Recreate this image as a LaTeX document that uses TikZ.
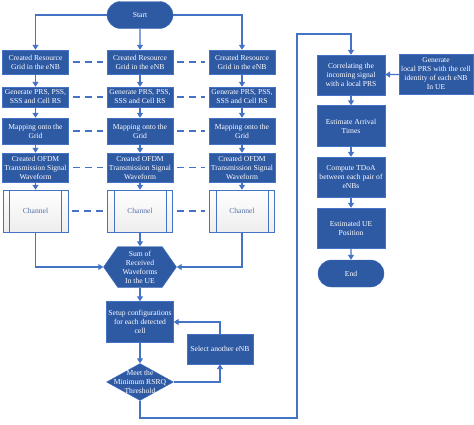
\documentclass[tikz,border=0pt]{standalone}
\usepackage{fontspec}
\setmainfont{Liberation Serif}
\usepackage{tikz}
\usetikzlibrary{arrows.meta,shapes.geometric,shapes.symbols,shapes.misc}

\definecolor{boxblue}{RGB}{46,89,163}
\definecolor{lineblue}{RGB}{68,114,196}
\definecolor{chantext}{RGB}{84,112,168}

\tikzset{
    smallfont/.style={font=\fontsize{7.6}{9}\selectfont},
    proc/.style={rectangle, draw=lineblue, fill=boxblue, text=white, align=center,
        inner sep=1pt, minimum width=66pt, smallfont},
    term/.style={proc, rounded rectangle, minimum width=68pt, minimum height=27pt},
    chan/.style={rectangle, draw=lineblue, top color=white, bottom color=black!7,
        text=chantext, minimum width=65pt, minimum height=42pt, smallfont,
        path picture={\draw[lineblue, line width=.8pt]
            ([xshift=6.5pt]path picture bounding box.north west) -- ([xshift=6.5pt]path picture bounding box.south west)
            ([xshift=-6.5pt]path picture bounding box.north east) -- ([xshift=-6.5pt]path picture bounding box.south east);}},
    hexa/.style={signal, signal to=west and east, signal pointer angle=110, draw=lineblue,
        fill=boxblue, minimum width=73pt, minimum height=41pt, inner sep=0pt},
    dec/.style={diamond, draw=lineblue, fill=boxblue, minimum width=67pt,
        minimum height=37pt, inner sep=0pt},
    txt/.style={text=white, align=center, inner sep=0pt, smallfont},
    flow/.style={draw=lineblue, line width=1.2pt, -{Triangle[width=6pt,length=5pt]}},
    link/.style={draw=lineblue, line width=1.1pt, dash pattern=on 7pt off 5pt,
        shorten <=4pt, shorten >=4pt},
}

\begin{document}
\begin{tikzpicture}[x=1pt,y=-1pt]
            \useasboundingbox (0,0) rectangle (474,424);

            \node[term] (start) at (140,15) {Start};

            \node[proc, minimum height=24pt] (grid1) at (35.5,62) {Created Resource\\Grid in the eNB};
            \node[proc, minimum height=24pt] (grid2) at (140,62) {Created Resource\\Grid in the eNB};
            \node[proc, minimum height=24pt] (grid3) at (242,62) {Created Resource\\Grid in the eNB};

            \node[proc, minimum height=20pt] (gen1) at (35.5,97) {Generate PRS, PSS,\\SSS and Cell RS};
            \node[proc, minimum height=20pt] (gen2) at (140,97) {Generate PRS, PSS,\\SSS and Cell RS};
            \node[proc, minimum height=20pt] (gen3) at (242,97) {Generate PRS, PSS,\\SSS and Cell RS};

            \node[proc, minimum height=26pt] (map1) at (35.5,131) {Mapping onto the\\Grid};
            \node[proc, minimum height=26pt] (map2) at (140,131) {Mapping onto the\\Grid};
            \node[proc, minimum height=26pt] (map3) at (242,131) {Mapping onto the\\Grid};

            \node[proc, minimum height=29pt] (ofdm1) at (35.5,167.5) {Created OFDM\\Transmission Signal\\Waveform};
            \node[proc, minimum height=29pt] (ofdm2) at (140,167.5) {Created OFDM\\Transmission Signal\\Waveform};
            \node[proc, minimum height=29pt] (ofdm3) at (242,167.5) {Created OFDM\\Transmission Signal\\Waveform};

            \node[chan] (chan1) at (35.5,211) {Channel};
            \node[chan] (chan2) at (140,211) {Channel};
            \node[chan] (chan3) at (242,211) {Channel};

            \node[hexa] (sum) at (140,267) {};
            \node[txt] at (sum) {Sum of\\Received\\Waveforms\\In the UE};

            \node[proc, minimum width=67pt, minimum height=41pt] (setup) at (140,322) {Setup configurations\\for each detected\\cell};
            \node[proc, minimum height=30pt] (select) at (220,349) {Select another eNB};

            \node[dec] (rsrq) at (140,382) {};
            \node[txt] at (rsrq) {Meet the\\Minimum RSRQ\\Threshold};

            \node[proc, minimum width=68pt, minimum height=40pt] (corr) at (351,75) {Correlating the\\incoming signal\\with a local PRS};
            \node[proc, minimum width=74pt, minimum height=40pt] (localprs) at (436,74) {Generate\\local PRS with the cell\\identity of each eNB\\In UE};
            \node[proc, minimum width=68pt, minimum height=41pt] (arrival) at (351,126) {Estimate Arrival\\Times};
            \node[proc, minimum width=68pt, minimum height=40pt] (tdoa) at (351,177) {Compute TDoA\\between each pair of\\eNBs};
            \node[proc, minimum width=68pt, minimum height=40pt] (uepos) at (351,228) {Estimated UE\\Position};
            \node[term] (finish) at (351,273.5) {End};

            \coordinate (lowturn) at (297,418);
            \coordinate (highturn) at (297,34);

            \draw[flow] (start) -| (grid1);
            \draw[flow] (start) -- (grid2);
            \draw[flow] (start) -| (grid3);

            \foreach \c in {1,2,3} {
                \draw[flow] (grid\c) -- (gen\c);
                \draw[flow] (gen\c) -- (map\c);
                \draw[flow] (map\c) -- (ofdm\c);
                \draw[flow] (ofdm\c) -- (chan\c);
            }

            \foreach \r in {grid,gen,map,ofdm,chan} {
                \draw[link] (\r1) -- (\r2);
                \draw[link] (\r2) -- (\r3);
            }

            \draw[flow] (chan1) |- (sum.west);
            \draw[flow] (chan2) -- (sum);
            \draw[flow] (chan3) |- (sum.east);
            \draw[flow] (sum) -- (setup);
            \draw[flow] (setup) -- (rsrq);
            \draw[flow] (rsrq.east) -| (select);
            \draw[flow] (select) |- (setup.east);
            \draw[flow] (rsrq.south) |- (lowturn) -- (highturn) -| (corr);

            \draw[flow] (localprs) -- (corr);
            \draw[flow] (corr) -- (arrival);
            \draw[flow] (arrival) -- (tdoa);
            \draw[flow] (tdoa) -- (uepos);
            \draw[flow] (uepos) -- (finish);
        \end{tikzpicture}
\end{document}
